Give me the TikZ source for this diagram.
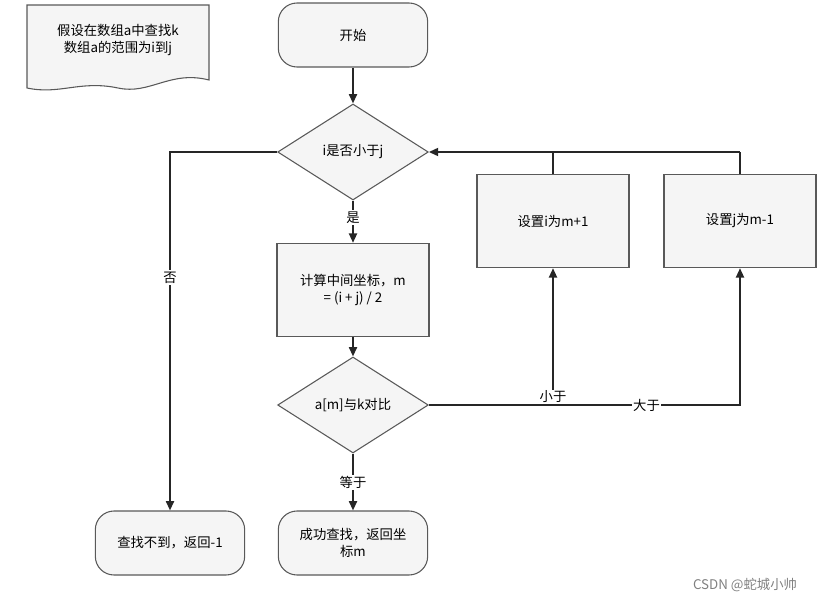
\documentclass[tikz,border=0pt]{standalone}
\usepackage{fontspec}
\newfontfamily\cjk{Noto Sans CJK SC}
\usetikzlibrary{shapes.geometric,arrows.meta}
\begin{document}
\begin{tikzpicture}[x=0.75pt,y=-0.75pt,font=\cjk\fontsize{10}{13}\selectfont,
 box/.style={draw=gray!70!black,fill=gray!8,thick,align=center},
 term/.style={box,rounded corners=14pt,minimum width=112pt,minimum height=48pt},
 rect/.style={box,minimum width=114pt,minimum height=70pt},
 dia/.style={box,diamond,aspect=1.5,minimum width=113pt,minimum height=72pt,inner sep=0pt},
 line/.style={draw=gray!30!black,line width=1.4pt},
 arr/.style={line,-{Triangle[length=7pt,width=6pt]}},
 lab/.style={fill=white,inner sep=1pt}]
\useasboundingbox (0,0) rectangle (836,604);
% document shape
\draw[box] (27,5) -- (209,5) -- (209,80) .. controls (170,70) and (150,95) .. (118,88) .. controls (80,80) and (60,95) .. (27,88) -- cycle;
\node[align=center] (doc) at (118,40) {假设在数组a中查找k\\数组a的范围为i到j};
\node[term] (start) at (353,35) {开始};
\node[dia] (d1) at (353,152) {i是否小于j};
\node[rect] (calc) at (353,290) {计算中间坐标，m\\= (i + j) / 2};
\node[dia] (d2) at (353,405) {a[m]与k对比};
\node[term] (ok) at (353,543) {成功查找，返回坐\\标m};
\node[term] (fail) at (170,543) {查找不到，返回-1};
\node[rect] (si) at (553,221) {设置i为m+1};
\node[rect] (sj) at (740,221) {设置j为m-1};
\coordinate (c1) at (170,152);
\coordinate (c2) at (553,405);
\coordinate (c3) at (740,405);
\coordinate (c4) at (553,152);
\coordinate (c5) at (740,152);
\draw[arr] (start) -- (d1);
\draw[arr] (d1) -- node[lab,pos=0.4]{是} (calc);
\draw[arr] (calc) -- (d2);
\draw[arr] (d2) -- node[lab,pos=0.5]{等于} (ok);
\draw[arr] (d1.west) -- (c1) -- node[lab,pos=0.35]{否} (fail.north);
\draw[arr] (d2.east) -- (c2) -- (si.south);
\node[lab] at (553,397) {小于};
\draw[arr] (c2) -- node[lab]{大于} (c3) -- (sj.south);
\draw[line] (si.north) -- (c4);
\draw[line] (sj.north) -- (c5);
\draw[arr] (c5) -- (d1.east);
\node[text=gray,font=\fontsize{10}{12}\selectfont\cjk] (wm) at (745,585) {CSDN @蛇城小帅};
\end{tikzpicture}
\end{document}
